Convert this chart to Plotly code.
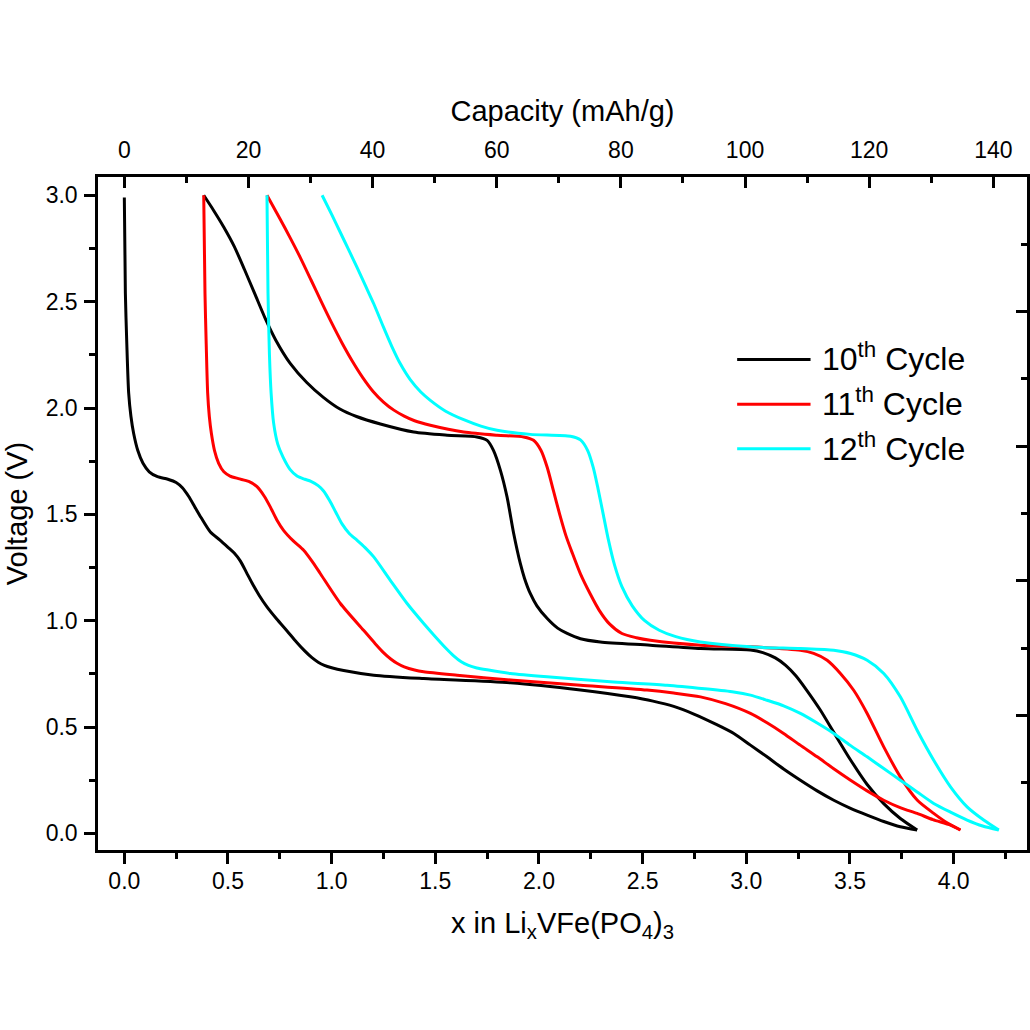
import plotly.graph_objects as go

# ---------------- data ----------------
# 10th cycle
c10_dis_x = [0.00, 0.005, 0.012, 0.021, 0.032, 0.045, 0.065, 0.09, 0.12, 0.16, 0.21, 0.25, 0.28, 0.31, 0.34,
             0.37, 0.415, 0.46, 0.50, 0.53, 0.56, 0.59, 0.62, 0.65, 0.688, 0.735, 0.785, 0.83, 0.87, 0.905,
             0.935, 0.965, 1.00, 1.058, 1.203, 1.444, 1.862, 2.20, 2.44, 2.55, 2.65, 2.75, 2.85, 2.94, 3.02,
             3.10, 3.18, 3.261, 3.342, 3.422, 3.503, 3.583, 3.663, 3.743, 3.824]
c10_dis_v = [2.99, 2.54, 2.30, 2.07, 1.96, 1.88, 1.80, 1.74, 1.70, 1.677, 1.665, 1.65, 1.625, 1.585, 1.535,
             1.485, 1.417, 1.38, 1.345, 1.318, 1.28, 1.225, 1.17, 1.12, 1.065, 1.008, 0.952, 0.90, 0.858, 0.826,
             0.805, 0.79, 0.779, 0.766, 0.744, 0.728, 0.708, 0.674, 0.642, 0.622, 0.597, 0.56, 0.515, 0.47,
             0.415, 0.36, 0.303, 0.25, 0.20, 0.156, 0.118, 0.086, 0.056, 0.031, 0.016]
c10_chg_x = [3.824, 3.743, 3.663, 3.583, 3.50, 3.422, 3.357, 3.29, 3.24, 3.19, 3.14, 3.08, 3.02, 2.779, 2.537,
             2.296, 2.20, 2.136, 2.09, 2.04, 1.99, 1.958, 1.93, 1.91, 1.878, 1.846, 1.814, 1.781, 1.75, 1.701,
             1.557, 1.396, 1.235, 1.12, 1.04, 0.96, 0.88, 0.80, 0.73, 0.68, 0.63, 0.58, 0.53, 0.48, 0.43, 0.383]
c10_chg_v = [0.016, 0.07, 0.14, 0.23, 0.35, 0.475, 0.58, 0.675, 0.74, 0.79, 0.825, 0.85, 0.862, 0.869, 0.885,
             0.90, 0.915, 0.94, 0.965, 1.01, 1.07, 1.128, 1.20, 1.269, 1.41, 1.582, 1.707, 1.80, 1.848, 1.864,
             1.872, 1.887, 1.925, 1.96, 1.995, 2.05, 2.12, 2.21, 2.32, 2.42, 2.535, 2.65, 2.76, 2.85, 2.93, 3.0]

# 11th cycle
c11_dis_x = [0.383, 0.389, 0.395, 0.402, 0.41, 0.42, 0.435, 0.455, 0.48, 0.51, 0.55, 0.60, 0.64, 0.675, 0.704,
             0.735, 0.768, 0.815, 0.865, 0.905, 0.945, 1.042, 1.154, 1.21, 1.25, 1.285, 1.315, 1.35, 1.40, 1.444,
             1.605, 1.878, 2.20, 2.521, 2.65, 2.779, 2.90, 3.02, 3.10, 3.18, 3.26, 3.342, 3.42, 3.503, 3.583,
             3.663, 3.745, 3.824, 3.90, 3.985, 4.033]
c11_dis_v = [3.0, 2.54, 2.30, 2.07, 1.96, 1.88, 1.80, 1.74, 1.70, 1.68, 1.668, 1.655, 1.63, 1.585, 1.535,
             1.475, 1.425, 1.375, 1.331, 1.28, 1.222, 1.081, 0.955, 0.892, 0.85, 0.82, 0.80, 0.783, 0.768, 0.76,
             0.744, 0.72, 0.697, 0.674, 0.66, 0.642, 0.61, 0.564, 0.52, 0.47, 0.415, 0.36, 0.305, 0.25, 0.20,
             0.156, 0.12, 0.094, 0.065, 0.039, 0.016]
c11_chg_x = [4.033, 3.96, 3.904, 3.824, 3.743, 3.663, 3.583, 3.518, 3.454, 3.39, 3.325, 3.261, 3.02, 2.779,
             2.537, 2.47, 2.40, 2.34, 2.29, 2.245, 2.20, 2.16, 2.13, 2.10, 2.07, 2.04, 2.01, 1.974, 1.926, 1.798,
             1.637, 1.476, 1.40, 1.35, 1.30, 1.25, 1.20, 1.15, 1.10, 1.05, 1.00, 0.95, 0.90, 0.85, 0.80, 0.75,
             0.688]
c11_chg_v = [0.016, 0.055, 0.094, 0.157, 0.266, 0.407, 0.564, 0.673, 0.752, 0.814, 0.846, 0.861, 0.877, 0.885,
             0.908, 0.92, 0.94, 0.985, 1.05, 1.13, 1.22, 1.32, 1.40, 1.50, 1.61, 1.72, 1.80, 1.848, 1.864, 1.872,
             1.887, 1.919, 1.94, 1.962, 1.99, 2.028, 2.078, 2.143, 2.22, 2.306, 2.40, 2.50, 2.603, 2.705, 2.80,
             2.891, 3.0]

# 12th cycle
c12_dis_x = [0.688, 0.693, 0.70, 0.708, 0.72, 0.74, 0.765, 0.80, 0.833, 0.87, 0.90, 0.935, 0.961, 0.99, 1.02,
             1.05, 1.085, 1.123, 1.16, 1.203, 1.283, 1.364, 1.444, 1.50, 1.55, 1.59, 1.625, 1.66, 1.70, 1.75,
             1.862, 2.039, 2.36, 2.618, 2.80, 2.939, 3.02, 3.10, 3.18, 3.261, 3.34, 3.422, 3.50, 3.583, 3.663,
             3.743, 3.824, 3.904, 3.985, 4.065, 4.14, 4.218]
c12_dis_v = [3.0, 2.54, 2.25, 2.07, 1.93, 1.83, 1.77, 1.71, 1.68, 1.665, 1.655, 1.635, 1.61, 1.565, 1.51,
             1.455, 1.41, 1.378, 1.345, 1.30, 1.19, 1.081, 0.987, 0.925, 0.872, 0.834, 0.807, 0.79, 0.778, 0.769,
             0.752, 0.736, 0.712, 0.697, 0.68, 0.665, 0.65, 0.626, 0.60, 0.564, 0.52, 0.47, 0.415, 0.36, 0.305,
             0.25, 0.195, 0.141, 0.10, 0.063, 0.035, 0.016]
c12_chg_x = [4.218, 4.145, 4.065, 3.985, 3.904, 3.824, 3.743, 3.663, 3.583, 3.503, 3.422, 3.261, 3.02, 2.779,
             2.66, 2.58, 2.51, 2.45, 2.40, 2.365, 2.335, 2.31, 2.285, 2.262, 2.235, 2.20, 2.152, 1.958, 1.798,
             1.72, 1.637, 1.55, 1.476, 1.43, 1.38, 1.33, 1.29, 1.25, 1.203, 1.163, 1.123, 1.08, 1.042, 1.00, 0.954]
c12_chg_v = [0.016, 0.063, 0.125, 0.219, 0.344, 0.485, 0.642, 0.752, 0.814, 0.846, 0.861, 0.869, 0.877, 0.90,
             0.925, 0.955, 1.00, 1.07, 1.16, 1.26, 1.38, 1.50, 1.62, 1.72, 1.80, 1.85, 1.867, 1.876, 1.895,
             1.915, 1.945, 1.985, 2.036, 2.075, 2.132, 2.21, 2.29, 2.38, 2.49, 2.575, 2.66, 2.748, 2.825, 2.91, 3.0]

cycle_names = ["10<sup>th</sup> Cycle", "11<sup>th</sup> Cycle", "12<sup>th</sup> Cycle"]
cycle_colors = ["#000000", "#ff0000", "#00ffff"]

x_ticks = [0.0, 0.5, 1.0, 1.5, 2.0, 2.5, 3.0, 3.5, 4.0]
v_ticks = [0.0, 0.5, 1.0, 1.5, 2.0, 2.5, 3.0]
cap_ticks = [0, 20, 40, 60, 80, 100, 120, 140]
cap_per_x = 33.4   # mAh/g per unit of x

x_range = [-0.127, 4.354]
v_range = [-0.078, 3.086]

# ---------------- figure ----------------
FONT = "Liberation Sans, Arial, sans-serif"
fig = go.Figure()

curves = [
    (c10_dis_x, c10_dis_v, c10_chg_x, c10_chg_v),
    (c11_dis_x, c11_dis_v, c11_chg_x, c11_chg_v),
    (c12_dis_x, c12_dis_v, c12_chg_x, c12_chg_v),
]
for (dx, dv, cx, cv), name, col in zip(curves, cycle_names, cycle_colors):
    for xs, vs in ((dx, dv), (cx, cv)):
        fig.add_trace(go.Scatter(x=xs, y=vs, mode="lines", name=name, showlegend=False,
                                 line=dict(color=col, width=3, shape="spline", smoothing=0.7),
                                 xaxis="x", yaxis="y", hoverinfo="skip"))

# invisible helper traces so the secondary axes exist
fig.add_trace(go.Scatter(x=[v * cap_per_x for v in x_range], y=v_range, mode="lines",
                         line=dict(width=0), opacity=0, showlegend=False, hoverinfo="skip",
                         xaxis="x2", yaxis="y"))
fig.add_trace(go.Scatter(x=x_range, y=[0, 1], mode="lines",
                         line=dict(width=0), opacity=0, showlegend=False, hoverinfo="skip",
                         xaxis="x", yaxis="y2"))

axis_common = dict(showline=True, linecolor="black", linewidth=2.5, showgrid=False, zeroline=False,
                   tickcolor="black", tickwidth=2.5,
                   tickfont=dict(family=FONT, size=23, color="black"))
minor_out = dict(ticks="outside", ticklen=6, tickwidth=2.5, tickcolor="black")
minor_in = dict(ticks="inside", ticklen=6, tickwidth=2.5, tickcolor="black")

fig.update_layout(
    width=1030, height=1030,
    margin=dict(l=98, r=3, t=177, b=180),
    paper_bgcolor="white", plot_bgcolor="white",
    showlegend=False,
    xaxis=dict(**axis_common, range=x_range, tickvals=x_ticks, tickformat=".1f",
               ticks="outside", ticklen=11, ticklabelstandoff=-2, minor=dict(dtick=0.25, **minor_out),
               title=dict(text="x in Li<sub>x</sub>VFe(PO<sub>4</sub>)<sub>3</sub>",
                          font=dict(family=FONT, size=29, color="black"), standoff=20)),
    yaxis=dict(**axis_common, range=v_range, tickvals=v_ticks, tickformat=".1f",
               ticks="outside", ticklen=11, ticklabelstandoff=2, minor=dict(dtick=0.25, **minor_out),
               title=dict(text="Voltage (V)", font=dict(family=FONT, size=29, color="black"), standoff=10)),
    xaxis2=dict(**axis_common, overlaying="x", side="top", anchor="y",
                range=[v * cap_per_x for v in x_range], tickvals=cap_ticks,
                ticks="inside", ticklen=11, ticklabelstandoff=7, minor=dict(dtick=10, **minor_in),
                title=dict(text="Capacity (mAh/g)", font=dict(family=FONT, size=29, color="black"), standoff=7)),
    yaxis2=dict(**axis_common, overlaying="y", side="right", anchor="x",
                range=[0, 1], dtick=0.2, showticklabels=False,
                ticks="inside", ticklen=11, minor=dict(dtick=0.1, **minor_in)),
)

# legend (drawn manually to match the long sample lines)
leg_y = [0.729, 0.6624, 0.5963]
for name, col, yy in zip(cycle_names, cycle_colors, leg_y):
    fig.add_shape(type="line", xref="paper", yref="paper", x0=0.688, x1=0.767, y0=yy, y1=yy,
                  line=dict(color=col, width=3))
    fig.add_annotation(xref="paper", yref="paper", x=0.7776, y=yy + 0.003, xanchor="left", yanchor="middle",
                       text=name, showarrow=False, font=dict(family=FONT, size=32, color="black"))

fig.write_html("out.html")
